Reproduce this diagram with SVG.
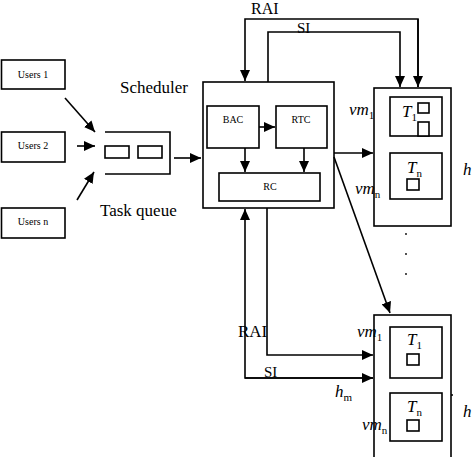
<svg xmlns="http://www.w3.org/2000/svg" width="474" height="457" viewBox="0 0 474 457">
<style>
.b{fill:#fff;stroke:#000;stroke-width:1.6}
.l{fill:none;stroke:#000;stroke-width:1.6}
.t{font-family:"Liberation Serif",serif;fill:#000}
.s{font-size:10px;text-anchor:middle}
.big{font-size:17px}
.m{font-family:"Liberation Serif",serif;font-style:italic;font-size:17px}
.sub{font-size:11px;font-style:normal}
</style>
<defs>
<marker id="a" markerUnits="userSpaceOnUse" markerWidth="12" markerHeight="10" refX="11" refY="5" orient="auto">
<path d="M0,0 L11,5 L0,10 Z" fill="#000"/>
</marker>
</defs>
<rect width="474" height="457" fill="#fff"/>
<g id="users1"><rect class="b" x="1.5" y="60" width="63.5" height="29"/><text class="t s" x="33" y="78">Users 1</text></g>
<g id="users2"><rect class="b" x="1.5" y="132" width="63.5" height="30"/><text class="t s" x="33" y="149">Users 2</text></g>
<g id="usersn"><rect class="b" x="1.5" y="208" width="63.5" height="30"/><text class="t s" x="33" y="225">Users n</text></g>
<g id="taskqueue">
<path class="l" d="M105,132 H170 V174 H105"/>
<rect class="b" x="105" y="146" width="24" height="12"/>
<rect class="b" x="138" y="146" width="24" height="12"/>
<text class="t big" x="100" y="216">Task queue</text>
</g>
<g id="scheduler">
<text class="t big" x="120" y="93">Scheduler</text>
<rect class="b" x="203" y="82" width="131" height="126"/>
<g id="bac"><rect class="b" x="207" y="106" width="52" height="42"/><text class="t s" x="233" y="123">BAC</text></g>
<g id="rtc"><rect class="b" x="276" y="106" width="51" height="42"/><text class="t s" x="301" y="123">RTC</text></g>
<g id="rc"><rect class="b" x="219" y="173" width="101" height="28"/><text class="t s" x="270" y="190">RC</text></g>
</g>
<g id="host1">
<rect class="b" x="374" y="88" width="77" height="138"/>
<rect class="b" x="390" y="97" width="52" height="39"/>
<text class="m" x="402" y="117">T<tspan class="sub" dy="4">1</tspan></text>
<rect class="b" x="418" y="103" width="11" height="10"/>
<rect class="b" x="418" y="122" width="11" height="14"/>
<rect class="b" x="390" y="153" width="52" height="46"/>
<text class="m" x="407" y="173">T<tspan class="sub" dy="4">n</tspan></text>
<rect class="b" x="407" y="179" width="12" height="11"/>
<text class="m" x="349" y="115">vm<tspan class="sub" dy="4">1</tspan></text>
<text class="m" x="355" y="194">vm<tspan class="sub" dy="4">n</tspan></text>
<text class="m" x="463" y="175">h</text>
</g>
<g id="dots" fill="#000">
<circle cx="406" cy="234" r="0.9"/><circle cx="406" cy="254" r="0.9"/><circle cx="406" cy="274" r="0.9"/>
</g>
<g id="hostm">
<rect class="b" x="374" y="315" width="77" height="146"/>
<rect class="b" x="390" y="327" width="52" height="51"/>
<text class="m" x="407" y="345">T<tspan class="sub" dy="4">1</tspan></text>
<rect class="b" x="407" y="354" width="12" height="11"/>
<rect class="b" x="390" y="393" width="52" height="48"/>
<text class="m" x="407" y="412">T<tspan class="sub" dy="4">n</tspan></text>
<rect class="b" x="407" y="420" width="12" height="11"/>
<text class="m" x="357" y="337">vm<tspan class="sub" dy="4">1</tspan></text>
<text class="m" x="362" y="430">vm<tspan class="sub" dy="4">n</tspan></text>
<text class="m" x="335" y="397">h<tspan class="sub" dy="4">m</tspan></text>
<text class="m" x="463" y="417">h</text>
<line class="l" x1="451" y1="395" x2="453" y2="395"/>
</g>
<g id="connectors">
<line class="l" x1="65" y1="98" x2="95" y2="132" marker-end="url(#a)"/>
<line class="l" x1="77" y1="146" x2="95" y2="146" marker-end="url(#a)"/>
<line class="l" x1="77" y1="200" x2="94" y2="172" marker-end="url(#a)"/>
<line class="l" x1="174" y1="158" x2="201" y2="158" marker-end="url(#a)"/>
<line class="l" x1="259" y1="127" x2="275" y2="127" marker-end="url(#a)"/>
<line class="l" x1="245" y1="148" x2="245" y2="172" marker-end="url(#a)"/>
<line class="l" x1="304" y1="148" x2="304" y2="172" marker-end="url(#a)"/>
<path class="l" d="M418,87 V19 H245 V81" marker-end="url(#a)"/>
<path class="l" d="M268,82 V32 H400 V87" marker-end="url(#a)"/>
<path class="l" d="M418,19 V87" marker-end="url(#a)"/>
<text class="t" x="251" y="14" font-size="16">RAI</text>
<text class="t" x="297" y="33" font-size="15">SI</text>
<line class="l" x1="334" y1="153" x2="373" y2="153" marker-end="url(#a)"/>
<line class="l" x1="334" y1="157" x2="390" y2="313" marker-end="url(#a)"/>
<path class="l" d="M373,378 H245 V209" marker-end="url(#a)"/>
<path class="l" d="M267,208 V355 H373" marker-end="url(#a)"/>
<path class="l" d="M245,378 H373" marker-end="url(#a)"/>
<text class="t big" x="238" y="337">RAI</text>
<text class="t" x="264" y="377" font-size="15">SI</text>
</g>
</svg>
